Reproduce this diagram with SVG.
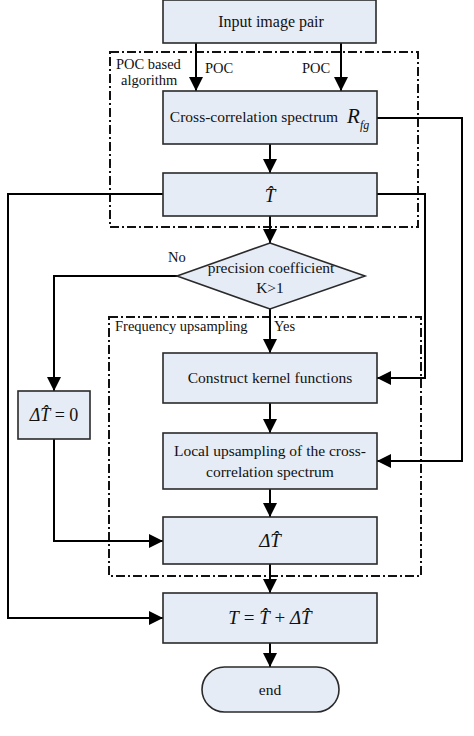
<svg xmlns="http://www.w3.org/2000/svg" width="474" height="736" viewBox="0 0 474 736" font-family="'Liberation Serif', 'Times New Roman', serif">
<style>
.box{fill:#e6ecf6;stroke:#2a2a2a;stroke-width:1.6}
.frame{fill:none;stroke:#111;stroke-width:2;stroke-dasharray:9 3 2 3}
.ln{fill:none;stroke:#000;stroke-width:2}
text{font-family:"Liberation Serif","Times New Roman",serif;fill:#111}
.t{font-size:15.5px;text-anchor:middle}
.lb{font-size:14.5px}
.m{font-style:italic;font-size:19px;text-anchor:middle}
</style>
<defs>
<marker id="ah" markerUnits="userSpaceOnUse" markerWidth="16" markerHeight="14" refX="14" refY="7" orient="auto">
<path d="M0,0 L14,7 L0,14 Z" fill="#000"/>
</marker>
</defs>
<rect width="474" height="736" fill="#fff"/>
<g id="frames">
<rect class="frame" x="110" y="52" width="308" height="175"/>
<rect class="frame" x="109" y="317" width="312" height="259"/>
<text class="lb" x="116" y="69">POC based</text>
<text class="lb" x="121" y="85">algorithm</text>
<text class="lb" x="115" y="331">Frequency upsampling</text>
</g>
<g id="connectors">
<path class="ln" d="M196,43 V91" marker-end="url(#ah)"/>
<path class="ln" d="M341,43 V91" marker-end="url(#ah)"/>
<path class="ln" d="M270,144 V173" marker-end="url(#ah)"/>
<path class="ln" d="M270,216 V243" marker-end="url(#ah)"/>
<path class="ln" d="M270,309 V353" marker-end="url(#ah)"/>
<path class="ln" d="M270,403 V433" marker-end="url(#ah)"/>
<path class="ln" d="M270,489 V517" marker-end="url(#ah)"/>
<path class="ln" d="M270,564 V593" marker-end="url(#ah)"/>
<path class="ln" d="M270,643 V667" marker-end="url(#ah)"/>
<path class="ln" d="M377,118 H462 V461 H377" marker-end="url(#ah)"/>
<path class="ln" d="M377,194 H425 V378 H377" marker-end="url(#ah)"/>
<path class="ln" d="M163,194 H8 V618 H163" marker-end="url(#ah)"/>
<path class="ln" d="M177,276 H54 V391" marker-end="url(#ah)"/>
<path class="ln" d="M54,439 V541 H163" marker-end="url(#ah)"/>
<text class="lb" x="205" y="73">POC</text>
<text class="lb" x="302" y="73">POC</text>
<text class="lb" x="168" y="262">No</text>
<text class="lb" x="274" y="331">Yes</text>
</g>
<g id="input">
<rect class="box" x="163" y="0" width="213" height="43"/>
<text class="t" x="271" y="27" style="font-size:16px">Input image pair</text>
</g>
<g id="crosscorr">
<rect class="box" x="163" y="91" width="214" height="53"/>
<text class="t" x="254" y="122">Cross-correlation spectrum</text>
<text x="347" y="123" style="font-style:italic;font-size:21px">R</text>
<text x="360" y="129" style="font-style:italic;font-size:12px">fg</text>
</g>
<g id="that">
<rect class="box" x="163" y="173" width="214" height="43"/>
<text class="m" x="270" y="202">T̂</text>
</g>
<g id="decision">
<polygon class="box" points="270,243 365,276 270,309 177,276"/>
<text class="t" x="271" y="273">precision coefficient</text>
<text class="t" x="270" y="293">K&gt;1</text>
</g>
<g id="dt0">
<rect class="box" x="18" y="391" width="72" height="48"/>
<text x="54" y="421" style="font-size:18px;text-anchor:middle"><tspan font-style="italic">ΔT̂</tspan> = 0</text>
</g>
<g id="kernel">
<rect class="box" x="163" y="353" width="214" height="50"/>
<text class="t" x="270" y="383">Construct kernel functions</text>
</g>
<g id="local">
<rect class="box" x="163" y="433" width="214" height="56"/>
<text class="t" x="270" y="456">Local upsampling of the cross-</text>
<text class="t" x="270" y="477">correlation spectrum</text>
</g>
<g id="dt">
<rect class="box" x="163" y="517" width="214" height="47"/>
<text class="m" x="270" y="547">ΔT̂</text>
</g>
<g id="tsum">
<rect class="box" x="163" y="593" width="214" height="50"/>
<text x="270" y="624" style="font-size:19px;text-anchor:middle"><tspan font-style="italic">T</tspan> = <tspan font-style="italic">T̂</tspan> + <tspan font-style="italic">ΔT̂</tspan></text>
</g>
<g id="end">
<rect class="box" x="202" y="667" width="137" height="45" rx="22.5"/>
<text class="t" x="270" y="695">end</text>
</g>
</svg>
